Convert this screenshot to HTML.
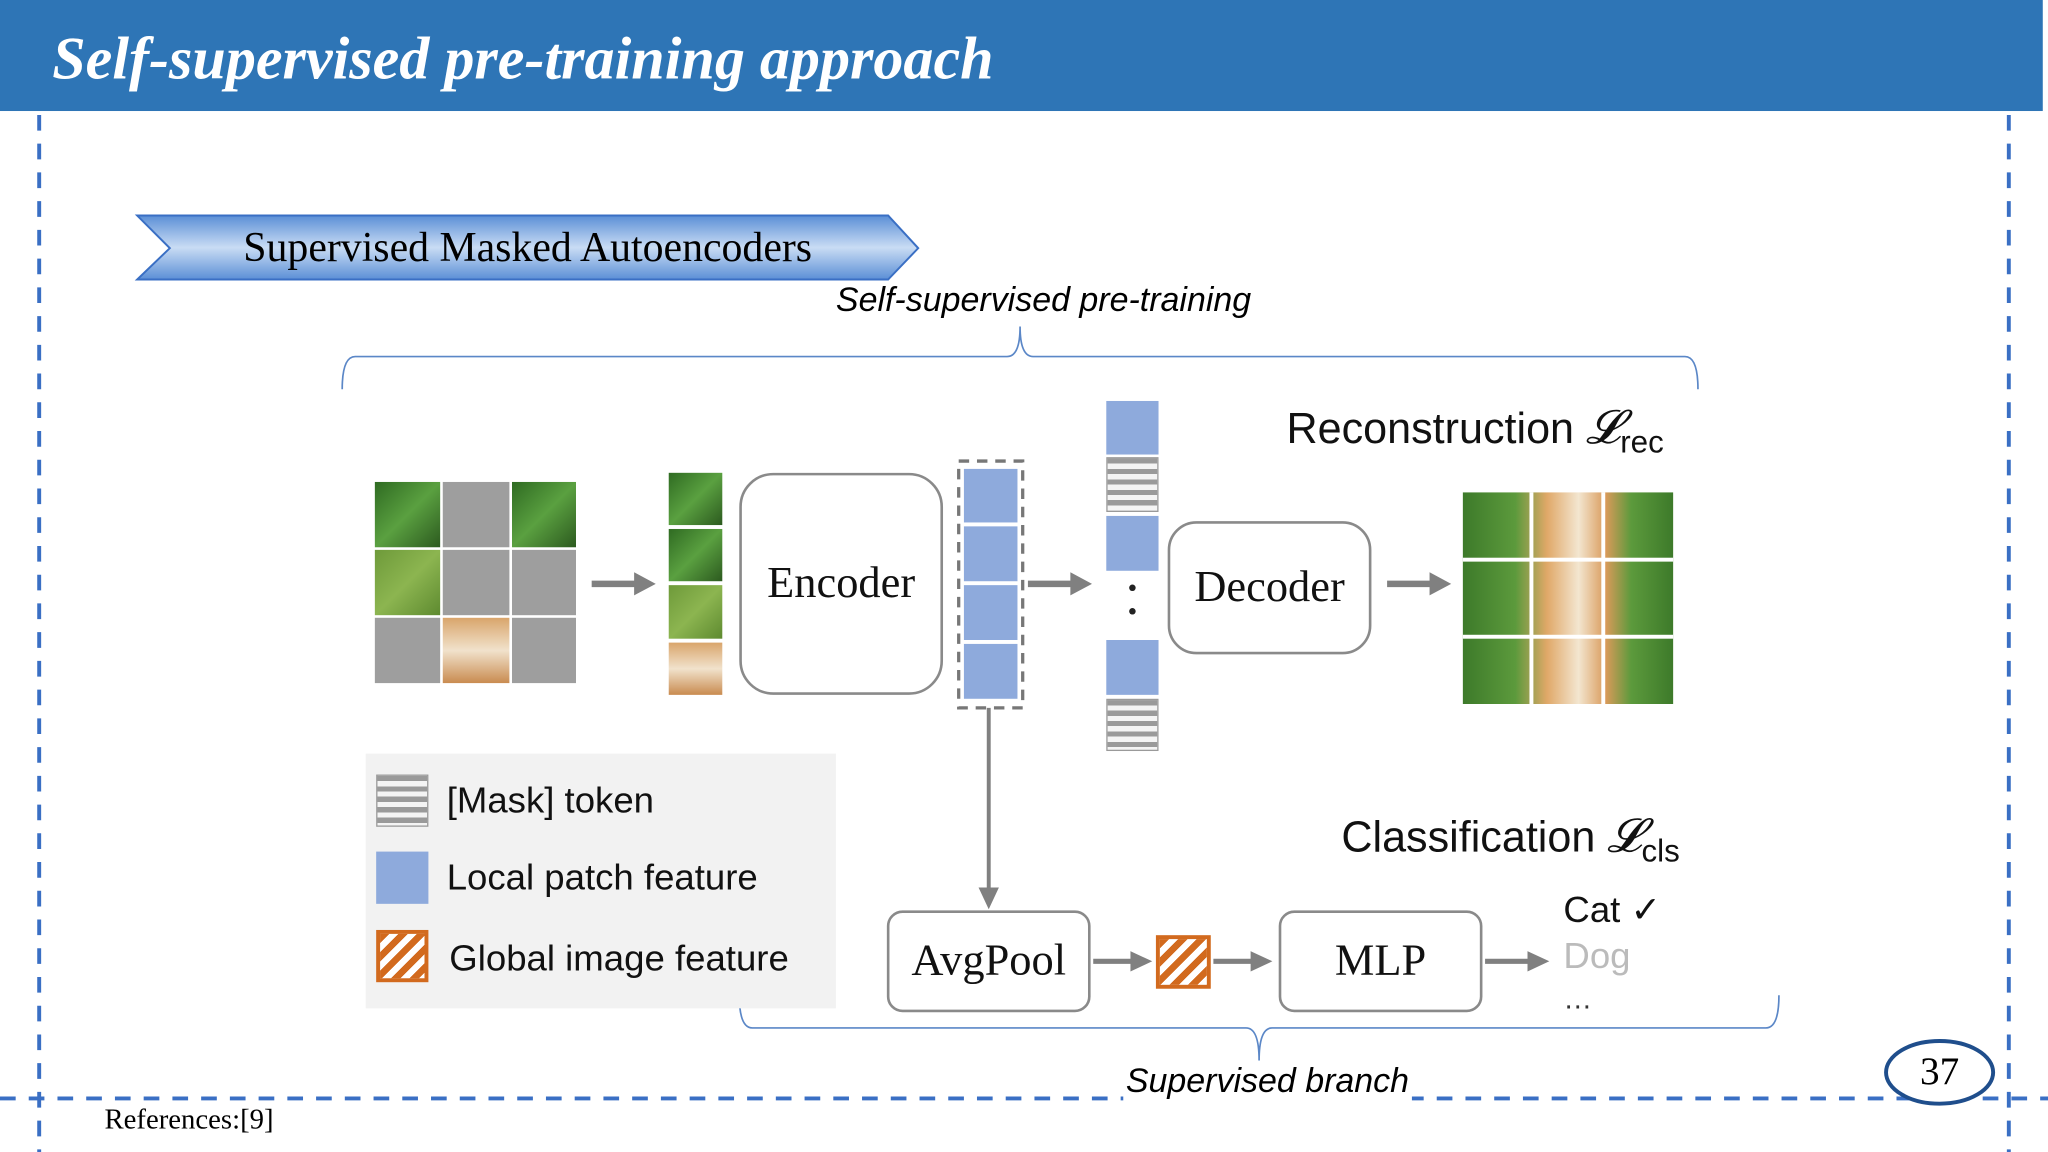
<!DOCTYPE html>
<html><head><meta charset="utf-8"><style>
html,body{margin:0;padding:0;background:#fff;overflow:hidden}
#w{width:1568px;height:882px;position:relative;transform:scale(1.306122);transform-origin:0 0;font-family:"Liberation Sans",sans-serif}
.a{position:absolute}
.serif{font-family:"Liberation Serif",serif}
.box{position:absolute;border:2.5px solid #8a8a8a;border-radius:22px;box-sizing:border-box;background:#fff;display:flex;align-items:center;justify-content:center;font-family:"Liberation Serif",serif;font-size:34px;color:#111}
.blue{position:absolute;background:#8eaadc}
.mask{position:absolute;background:repeating-linear-gradient(#9a9a9a 0 4px,#f4f4f4 4px 8px);border:1px solid #9a9a9a;box-sizing:border-box}
.stripe{position:absolute;background:repeating-linear-gradient(135deg,#d26a1e 0 5px,#fff 5px 10px);border:3px solid #d26a1e;box-sizing:border-box}
.g{position:absolute;background:#9e9e9e}
.gr{position:absolute;background:linear-gradient(135deg,#2f6b22,#5aa040,#2c5a1f)}
.gr2{position:absolute;background:linear-gradient(135deg,#6e9a3a,#8cb550,#5e8a30)}
.cat{position:absolute;background:linear-gradient(180deg,#d9a56b,#f1e2cc,#c98b50)}
</style></head><body><div id="w">
<div class="a" style="left:0;top:0;width:1564px;height:85px;background:#2e75b6"></div>
<div class="a serif" style="left:40px;top:18px;font-size:46px;font-style:italic;font-weight:bold;color:#fff;white-space:nowrap">Self-supervised pre-training approach</div>
<svg class="a" style="left:0;top:0" width="1568" height="882">
<line x1="30" y1="88" x2="30" y2="882" stroke="#3a6fc4" stroke-width="3" stroke-dasharray="12,10"/>
<line x1="1538" y1="88" x2="1538" y2="882" stroke="#3a6fc4" stroke-width="3" stroke-dasharray="12,10"/>
<line x1="0" y1="841" x2="1568" y2="841" stroke="#3a6fc4" stroke-width="3" stroke-dasharray="12,10"/>
<defs><linearGradient id="bg" x1="0" y1="0" x2="0" y2="1"><stop offset="0" stop-color="#5b8fd6"/><stop offset="0.5" stop-color="#c9dcf4"/><stop offset="1" stop-color="#5b8fd6"/></linearGradient></defs>
<polygon points="105,165 680,165 703,190 680,214 105,214 130,190" fill="url(#bg)" stroke="#3a6fc4" stroke-width="1.5"/>
<path d="M262,298 Q262,273 272,273 L771,273 Q781,273 781,250 Q781,273 791,273 L1290,273 Q1300,273 1300,298" fill="none" stroke="#5b87c7" stroke-width="1.3"/>
<path d="M566,762 Q566,787 576,787 L954,787 Q964,787 964,812 Q964,787 974,787 L1352,787 Q1362,787 1362,762" fill="none" stroke="#5b87c7" stroke-width="1.3"/>
<g fill="#808080" stroke="#808080">
<line x1="453" y1="447" x2="488" y2="447" stroke-width="5"/><polygon points="486,439 501,447 486,455"/>
<line x1="787" y1="447" x2="822" y2="447" stroke-width="5"/><polygon points="820,439 835,447 820,455"/>
<line x1="1062" y1="447" x2="1097" y2="447" stroke-width="5"/><polygon points="1095,439 1110,447 1095,455"/>
<line x1="757" y1="542" x2="757" y2="682" stroke-width="3"/><polygon points="750,680 757,695 764,680"/>
<line x1="837" y1="736" x2="868" y2="736" stroke-width="4"/><polygon points="866,729 881,736 866,743"/>
<line x1="929" y1="736" x2="960" y2="736" stroke-width="4"/><polygon points="958,729 973,736 958,743"/>
<line x1="1137" y1="736" x2="1172" y2="736" stroke-width="4"/><polygon points="1170,729 1185,736 1170,743"/>
</g>
<rect x="734" y="353" width="49" height="189" fill="none" stroke="#777" stroke-width="2.5" stroke-dasharray="8,6"/>
<circle cx="867" cy="450" r="2.5" fill="#222"/><circle cx="867" cy="468" r="2.5" fill="#222"/>
<ellipse cx="1485" cy="821" rx="41" ry="24" fill="#fff" stroke="#1f4e8c" stroke-width="3"/>
</svg>
<div class="a serif" style="left:105px;top:171px;width:598px;text-align:center;font-size:32px;color:#000">Supervised Masked Autoencoders</div>
<div class="a" style="left:640px;top:214px;font-size:26px;font-style:italic;color:#000">Self-supervised pre-training</div>
<div class="a" style="left:280px;top:577px;width:360px;height:195px;background:#f2f2f2"></div>
<div class="gr" style="left:287px;top:369px;width:50px;height:50px"></div>
<div class="g" style="left:339px;top:369px;width:51px;height:50px"></div>
<div class="gr" style="left:392px;top:369px;width:49px;height:50px"></div>
<div class="gr2" style="left:287px;top:421px;width:50px;height:50px"></div>
<div class="g" style="left:339px;top:421px;width:51px;height:50px"></div>
<div class="g" style="left:392px;top:421px;width:49px;height:50px"></div>
<div class="g" style="left:287px;top:473px;width:50px;height:50px"></div>
<div class="cat" style="left:339px;top:473px;width:51px;height:50px"></div>
<div class="g" style="left:392px;top:473px;width:49px;height:50px"></div>
<div class="gr" style="left:512px;top:362px;width:41px;height:40px"></div>
<div class="gr" style="left:512px;top:405px;width:41px;height:40px"></div>
<div class="gr2" style="left:512px;top:448px;width:41px;height:41px"></div>
<div class="cat" style="left:512px;top:492px;width:41px;height:40px"></div>
<div class="box" style="left:566px;top:362px;width:156px;height:170px;border-radius:26px">Encoder</div>
<div class="blue" style="left:738px;top:359px;width:41px;height:41px"></div>
<div class="blue" style="left:738px;top:403px;width:41px;height:42px"></div>
<div class="blue" style="left:738px;top:448px;width:41px;height:42px"></div>
<div class="blue" style="left:738px;top:493px;width:41px;height:42px"></div>
<div class="blue" style="left:847px;top:307px;width:40px;height:41px"></div>
<div class="mask" style="left:847px;top:350px;width:40px;height:42px"></div>
<div class="blue" style="left:847px;top:395px;width:40px;height:42px"></div>
<div class="blue" style="left:847px;top:490px;width:40px;height:42px"></div>
<div class="mask" style="left:847px;top:535px;width:40px;height:40px"></div>
<div class="box" style="left:894px;top:399px;width:156px;height:102px">Decoder</div>
<div class="a" style="left:1120px;top:377px;width:161px;height:162px;background:linear-gradient(90deg,#3d7a2a 0,#5c9a3c 25%,#e0a868 40%,#f3e6d0 55%,#d99a5a 68%,#5c9a3c 80%,#3d7a2a 100%)"></div>
<div class="a" style="left:1120px;top:427px;width:161px;height:3px;background:#fff"></div>
<div class="a" style="left:1120px;top:486px;width:161px;height:3px;background:#fff"></div>
<div class="a" style="left:1171px;top:377px;width:3px;height:162px;background:#fff"></div>
<div class="a" style="left:1226px;top:377px;width:3px;height:162px;background:#fff"></div>
<div class="a" style="left:985px;top:306px;font-size:33px;color:#111;white-space:nowrap">Reconstruction <i class="serif" style="font-size:36px">𝓛</i><sub style="font-size:24px">rec</sub></div>
<div class="a" style="left:1027px;top:619px;font-size:33px;color:#111;white-space:nowrap">Classification <i class="serif" style="font-size:36px">𝓛</i><sub style="font-size:24px">cls</sub></div>
<div class="box" style="left:679px;top:697px;width:156px;height:78px;border-radius:12px">AvgPool</div>
<div class="box" style="left:979px;top:697px;width:156px;height:78px;border-radius:12px">MLP</div>
<div class="stripe" style="left:885px;top:716px;width:42px;height:41px"></div>
<div class="a" style="left:1197px;top:680px;font-size:28px;color:#111">Cat ✓</div>
<div class="a" style="left:1197px;top:716px;font-size:28px;color:#bbb">Dog</div>
<div class="a" style="left:1197px;top:752px;font-size:22px;color:#333">…</div>
<div class="mask" style="left:288px;top:593px;width:40px;height:40px"></div>
<div class="a" style="left:342px;top:597px;font-size:28px;color:#111">[Mask] token</div>
<div class="blue" style="left:288px;top:652px;width:40px;height:40px"></div>
<div class="a" style="left:342px;top:656px;font-size:28px;color:#111">Local patch feature</div>
<div class="stripe" style="left:288px;top:712px;width:40px;height:40px"></div>
<div class="a" style="left:344px;top:718px;font-size:28px;color:#111">Global image feature</div>
<div class="a" style="left:860px;top:812px;font-size:26px;font-style:italic;color:#000;background:#fff;padding:0 2px">Supervised branch</div>
<div class="a serif" style="left:1444px;top:804px;width:82px;text-align:center;font-size:30px;color:#000">37</div>
<div class="a serif" style="left:80px;top:844px;font-size:22px;color:#000">References:[9]</div>
</div></body></html>
